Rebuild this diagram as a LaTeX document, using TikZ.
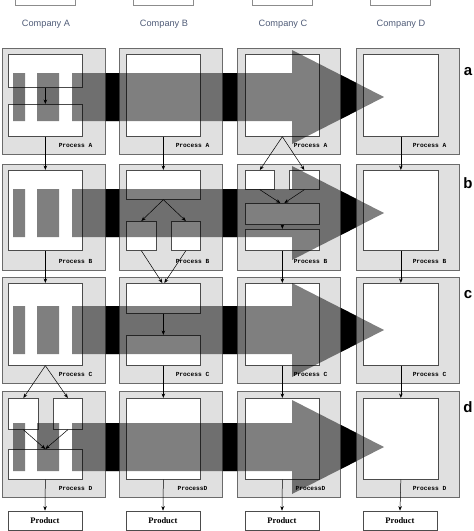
\documentclass[tikz,border=0pt]{standalone}
\usepackage{fontspec}
\setmainfont{Liberation Sans}
\newfontfamily\procfont{Liberation Mono}
\newfontfamily\prodfont{Liberation Serif}
\usetikzlibrary{arrows.meta,positioning,calc}

\definecolor{panelfill}{gray}{0.88}
\definecolor{paneledge}{gray}{0.42}
\definecolor{boxedge}{gray}{0.30}
\definecolor{bracketgray}{gray}{0.55}
\definecolor{companyblue}{RGB}{80,92,120}

\tikzset{
  panel/.style={draw=paneledge, fill=panelfill, line width=0.8pt, inner sep=0pt, anchor=north west, minimum width=103pt, minimum height=106pt},
  cell/.style={draw=boxedge, fill=white, line width=0.7pt, inner sep=0pt, anchor=north west},
  proc/.style={font=\procfont\bfseries\fontsize{6.2}{7}\selectfont, inner sep=0pt},
  prodbox/.style={draw=boxedge, fill=white, line width=0.7pt, inner sep=0pt, minimum width=74pt, minimum height=19pt, font=\prodfont\bfseries\fontsize{8.5}{10}\selectfont},
  conn/.style={-{Stealth[length=4.5pt,width=3.5pt]}, line width=0.5pt},
  company/.style={font=\fontsize{9.2}{11}\selectfont, text=companyblue, inner sep=0pt, anchor=base},
  rowlabel/.style={font=\bfseries\fontsize{15}{17}\selectfont, inner sep=0pt, anchor=base}
}

% box with its top left corner at (#2,#3)
\newcommand{\cellbox}[5]{\node[cell, minimum width=#4pt, minimum height=#5pt] (#1) at (#2,#3) {};}

\begin{document}
\begin{tikzpicture}[x=1pt,y=-1pt]
\useasboundingbox (0,0) rectangle (474,531);

% Big arrows, black where they run between the panels
\foreach \yc in {97,213,330,447} {
  \fill[black] (13,\yc-24) rectangle (25,\yc+24) (37,\yc-24) rectangle (59,\yc+24)
    (72,\yc-24) -- (292,\yc-24) -- (292,\yc-47) -- (384,\yc) -- (292,\yc+47) -- (292,\yc+24) -- (72,\yc+24) -- cycle;
}

% Panels
\foreach \col/\px in {A/2,B/119,C/237,D/356}
  \foreach \row/\py in {1/48,2/164,3/277,4/391}
    \node[panel] (p\col\row) at (\px,\py) {};

% White gaps in the arrow tail (company A)
\foreach \yc in {97,213,330,447} {
  \fill[white] (25,\yc-24) rectangle (37,\yc+24) (59,\yc-24) rectangle (72,\yc+24);
}

% Company A
\cellbox{a1t}{8}{54}{74}{33}
\cellbox{a1b}{8}{104}{74}{32}
\cellbox{a2}{8}{170}{74}{80}
\cellbox{a3}{8}{283}{74}{82}
\cellbox{a4l}{8}{398}{30}{31}
\cellbox{a4r}{53}{398}{29}{31}
\cellbox{a4b}{8}{449}{74}{30}

% Company B
\cellbox{b1}{126}{54}{74}{82}
\cellbox{b2t}{126}{170}{74}{29}
\cellbox{b2l}{126}{221}{30}{29}
\cellbox{b2r}{171}{221}{29}{29}
\cellbox{b3t}{126}{283}{74}{30}
\cellbox{b3b}{126}{335}{74}{30}
\cellbox{b4}{126}{398}{74}{81}

% Company C
\cellbox{c1}{245}{54}{74}{82}
\cellbox{c2l}{245}{170}{29}{19}
\cellbox{c2r}{289}{170}{30}{19}
\cellbox{c2m}{245}{203}{74}{21}
\cellbox{c2b}{245}{229}{74}{21}
\cellbox{c3}{245}{283}{74}{82}
\cellbox{c4}{245}{398}{74}{81}

% Company D
\foreach \row/\py/\h in {1/54/82,2/170/80,3/283/82,4/398/81} {
  \cellbox{d\row}{363}{\py}{75}{\h}
}

% Products
\foreach \col/\cx in {A/45,B/163,C/282,D/400}
  \node[prodbox] (pr\col) at (\cx,520.5) {Product};

% Process labels
\foreach \col/\px in {A/2,B/119,C/237,D/356}
  \foreach \row/\py/\lt in {1/48/A,2/164/B,3/277/C}
    \node[proc] (l\col\row) at (\px+73.5,\py+97) {Process \lt};
\foreach \col/\px/\txt in {A/2/Process D,B/119/ProcessD,C/237/ProcessD,D/356/Process D}
  \node[proc] (l\col4) at (\px+73.5,488) {\txt};

% Connectors
\draw[conn] (a1t.south) -- (a1b.north);
\draw[conn] (a1b.south) -- (a2.north);
\draw[conn] (a2.south) -- (a3.north);
\draw[conn] (a3.south) -- (a4l.north);
\draw[conn] (a3.south) -- (a4r.north);
\draw[conn] (a4l.south) -- (a4b.north);
\draw[conn] (a4r.south) -- (a4b.north);
\draw[conn] (a4b.south) -- (prA.north);

\draw[conn] (b1.south) -- (b2t.north);
\draw[conn] (b2t.south) -- (b2l.north);
\draw[conn] (b2t.south) -- (b2r.north);
\draw[conn] (b2l.south) -- ([xshift=-1pt]b3t.north);
\draw[conn] (b2r.south) -- ([xshift=1pt]b3t.north);
\draw[conn] (b3t.south) -- (b3b.north);
\draw[conn] (b3b.south) -- (b4.north);
\draw[conn] (b4.south) -- (prB.north);

\draw[conn] (c1.south) -- (c2l.north);
\draw[conn] (c1.south) -- (c2r.north);
\draw[conn] (c2l.south) -- ([xshift=-2pt]c2m.north);
\draw[conn] (c2r.south) -- ([xshift=2pt]c2m.north);
\draw[conn] (c2m.south) -- (c2b.north);
\draw[conn] (c2b.south) -- (c3.north);
\draw[conn] (c3.south) -- (c4.north);
\draw[conn] (c4.south) -- (prC.north);

\foreach \i/\j in {1/2,2/3,3/4}
  \draw[conn] (d\i.south) -- (d\j.north);
\draw[conn] (d4.south) -- (prD.north);

% Big arrows again, see-through over the panels
\foreach \yc in {97,213,330,447} {
  \fill[black, fill opacity=0.5] (13,\yc-24) rectangle (25,\yc+24) (37,\yc-24) rectangle (59,\yc+24)
    (72,\yc-24) -- (292,\yc-24) -- (292,\yc-47) -- (384,\yc) -- (292,\yc+47) -- (292,\yc+24) -- (72,\yc+24) -- cycle;
}

% Company headers
\foreach \col/\cx in {A/45,B/163,C/282,D/400} {
  \draw[bracketgray, line width=0.8pt] (\cx-30,0) -- (\cx-30,5) -- (\cx+30,5) -- (\cx+30,0);
  \node[company] (co\col) at (\cx+1,26) {Company \col};
}

% Row letters
\foreach \r/\yb in {a/75,b/188,c/298,d/412}
  \node[rowlabel] (row\r) at (468,\yb) {\r};

\end{tikzpicture}
\end{document}
